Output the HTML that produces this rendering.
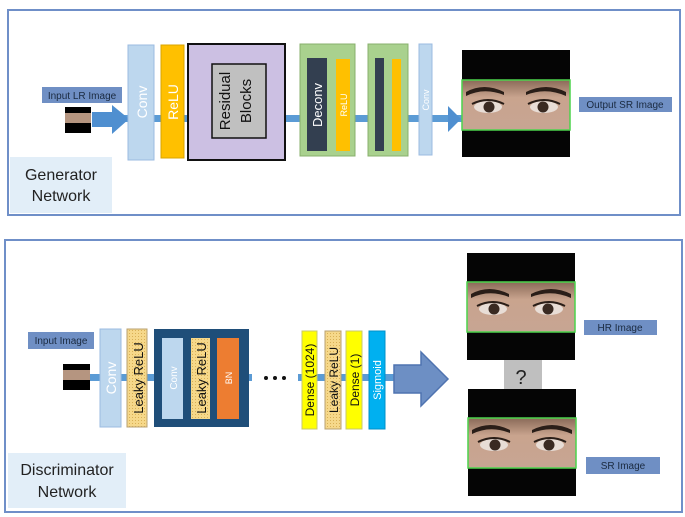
<!DOCTYPE html>
<html><head><meta charset="utf-8"><style>
html,body{margin:0;padding:0;background:#fff;}
svg{display:block;}
text{font-family:"Liberation Sans",sans-serif;}
</style></head><body>
<svg width="685" height="517" viewBox="0 0 685 517" xmlns="http://www.w3.org/2000/svg">
<defs>
<pattern id="dots" width="3" height="3" patternUnits="userSpaceOnUse">
<rect width="3" height="3" fill="#f6d88a"/><rect width="1" height="1" fill="#d9b055"/>
</pattern>
<linearGradient id="skin" x1="0" y1="0" x2="0" y2="1">
<stop offset="0" stop-color="#8a6a58"/><stop offset="0.35" stop-color="#c9a48e"/><stop offset="1" stop-color="#c7a593"/>
</linearGradient>
<g id="face">
<rect x="0" y="0" width="108" height="50" fill="url(#skin)"/>
<path d="M4 12 Q22 2 42 12 L42 15 Q22 7 4 16Z" fill="#2a1e18"/>
<path d="M64 12 Q84 2 104 12 L104 16 Q84 7 64 15Z" fill="#2a1e18"/>
<ellipse cx="26" cy="27" rx="14" ry="6" fill="#e8ddd6"/>
<ellipse cx="82" cy="27" rx="14" ry="6" fill="#e8ddd6"/>
<circle cx="27" cy="27" r="5.5" fill="#3a2a22"/>
<circle cx="81" cy="27" r="5.5" fill="#3a2a22"/>
<path d="M10 24 Q26 16 42 24" stroke="#2a1e18" stroke-width="2" fill="none"/>
<path d="M66 24 Q82 16 98 24" stroke="#2a1e18" stroke-width="2" fill="none"/>
<rect x="0" y="0" width="108" height="50" fill="none" stroke="#4cd34c" stroke-width="1.5"/>
</g>
</defs>

<!-- Generator panel -->
<rect x="8" y="10" width="672" height="205" fill="#fff" stroke="#6f8fc8" stroke-width="2"/>
<rect x="10" y="157" width="102" height="56" fill="#e2eef8"/>
<text x="61" y="180" font-size="16" text-anchor="middle" fill="#222">Generator</text>
<text x="61" y="201" font-size="16" text-anchor="middle" fill="#222">Network</text>

<rect x="92" y="115" width="370" height="7" fill="#5b9bd5"/>
<polygon points="92,112 112,112 112,105 129,119 112,134 112,127 92,127" fill="#4f8fd0"/>
<polygon points="448,106 461,119 448,132" fill="#4f8fd0"/>

<rect x="42" y="87" width="80" height="16" fill="#6f8fc4"/>
<text x="82" y="99" font-size="10" text-anchor="middle" fill="#1a2a40">Input LR Image</text>
<rect x="65" y="107" width="26" height="26" fill="#000"/>
<rect x="65" y="113" width="26" height="10" fill="#b59580"/>

<rect x="128" y="45" width="26" height="115" fill="#bdd7ee" stroke="#9bbbe0"/>
<text transform="translate(147,102) rotate(-90)" font-size="14" text-anchor="middle" fill="#fff">Conv</text>
<rect x="161" y="45" width="23" height="113" fill="#ffc000" stroke="#d9a400"/>
<text transform="translate(178,102) rotate(-90)" font-size="14" text-anchor="middle" fill="#fff">ReLU</text>
<rect x="188" y="44" width="97" height="116" fill="#ccc0e3" stroke="#111" stroke-width="2"/>
<rect x="212" y="64" width="54" height="74" fill="#c0c0c0" stroke="#111" stroke-width="1.5"/>
<text transform="translate(230,101) rotate(-90)" font-size="15" text-anchor="middle" fill="#111">Residual</text>
<text transform="translate(251,101) rotate(-90)" font-size="15" text-anchor="middle" fill="#111">Blocks</text>

<rect x="300" y="44" width="55" height="112" fill="#a9d18e" stroke="#88b06c"/>
<rect x="307" y="58" width="20" height="93" fill="#333f50"/>
<text transform="translate(322,105) rotate(-90)" font-size="13" text-anchor="middle" fill="#fff">Deconv</text>
<rect x="336" y="59" width="14" height="92" fill="#ffc000"/>
<text transform="translate(347,105) rotate(-90)" font-size="9" text-anchor="middle" fill="#fff">ReLU</text>
<rect x="368" y="44" width="40" height="112" fill="#a9d18e" stroke="#88b06c"/>
<rect x="375" y="58" width="9" height="93" fill="#333f50"/>
<rect x="392" y="59" width="9" height="92" fill="#ffc000"/>
<rect x="419" y="44" width="13" height="111" fill="#bdd7ee" stroke="#9bbbe0"/>
<text transform="translate(429,100) rotate(-90)" font-size="9" text-anchor="middle" fill="#fff">Conv</text>

<rect x="462" y="50" width="108" height="107" fill="#050505"/>
<use href="#face" x="462" y="80"/>
<rect x="579" y="97" width="93" height="15" fill="#6f8fc4"/>
<text x="625" y="108" font-size="10" text-anchor="middle" fill="#1a2a40">Output SR Image</text>

<!-- Discriminator panel -->
<rect x="5" y="240" width="677" height="272" fill="#fff" stroke="#6f8fc8" stroke-width="2"/>
<rect x="8" y="453" width="118" height="55" fill="#e2eef8"/>
<text x="67" y="475" font-size="16" text-anchor="middle" fill="#222">Discriminator</text>
<text x="67" y="497" font-size="16" text-anchor="middle" fill="#222">Network</text>

<rect x="90" y="374" width="162" height="7" fill="#5b9bd5"/>
<rect x="298" y="374" width="100" height="7" fill="#5b9bd5"/>
<circle cx="266" cy="378" r="2" fill="#111"/><circle cx="275" cy="378" r="2" fill="#111"/><circle cx="284" cy="378" r="2" fill="#111"/>

<rect x="28" y="332" width="66" height="17" fill="#6f8fc4"/>
<text x="61" y="344" font-size="10" text-anchor="middle" fill="#1a2a40">Input Image</text>
<rect x="63" y="364" width="27" height="26" fill="#000"/>
<rect x="63" y="370" width="27" height="10" fill="#b59580"/>

<rect x="100" y="329" width="21" height="98" fill="#bdd7ee" stroke="#9bbbe0"/>
<text transform="translate(116,378) rotate(-90)" font-size="14" text-anchor="middle" fill="#fff">Conv</text>
<rect x="127" y="329" width="20" height="98" fill="url(#dots)" stroke="#b8a070"/>
<text transform="translate(143,378) rotate(-90)" font-size="13" text-anchor="middle" fill="#111">Leaky ReLU</text>
<rect x="154" y="329" width="95" height="98" fill="#1f4e79"/>
<rect x="162" y="338" width="21" height="81" fill="#bdd7ee"/>
<text transform="translate(177,378) rotate(-90)" font-size="10" text-anchor="middle" fill="#fff">Conv</text>
<rect x="191" y="338" width="19" height="81" fill="url(#dots)"/>
<text transform="translate(206,378) rotate(-90)" font-size="13" text-anchor="middle" fill="#111">Leaky ReLU</text>
<rect x="217" y="338" width="22" height="81" fill="#ed7d31"/>
<text transform="translate(232,378) rotate(-90)" font-size="9" text-anchor="middle" fill="#fff">BN</text>

<rect x="302" y="331" width="15" height="98" fill="#ffff00" stroke="#c8c86a"/>
<text transform="translate(314,380) rotate(-90)" font-size="12" text-anchor="middle" fill="#111">Dense (1024)</text>
<rect x="325" y="331" width="16" height="98" fill="url(#dots)" stroke="#b8a070"/>
<text transform="translate(338,380) rotate(-90)" font-size="12" text-anchor="middle" fill="#111">Leaky ReLU</text>
<rect x="346" y="331" width="16" height="98" fill="#ffff00" stroke="#c8c86a"/>
<text transform="translate(359,380) rotate(-90)" font-size="12" text-anchor="middle" fill="#111">Dense (1)</text>
<rect x="369" y="331" width="16" height="98" fill="#00b0f0" stroke="#0090c8"/>
<text transform="translate(381,380) rotate(-90)" font-size="11" text-anchor="middle" fill="#fff">Sigmoid</text>

<polygon points="394,365 421,365 421,352 448,379 421,406 421,393 394,393" fill="#6d8fc4" stroke="#4f73b0" stroke-width="1.5"/>

<rect x="467" y="253" width="108" height="107" fill="#050505"/>
<use href="#face" x="467" y="282"/>
<rect x="504" y="360" width="38" height="29" fill="#bfbfbf"/>
<text x="521" y="384" font-size="20" text-anchor="middle" fill="#222">?</text>
<rect x="468" y="389" width="108" height="107" fill="#050505"/>
<use href="#face" x="468" y="418"/>
<rect x="584" y="320" width="73" height="15" fill="#6f8fc4"/>
<text x="620" y="331" font-size="10" text-anchor="middle" fill="#1a2a40">HR Image</text>
<rect x="586" y="457" width="74" height="17" fill="#6f8fc4"/>
<text x="623" y="469" font-size="10" text-anchor="middle" fill="#1a2a40">SR Image</text>
</svg>
</body></html>
